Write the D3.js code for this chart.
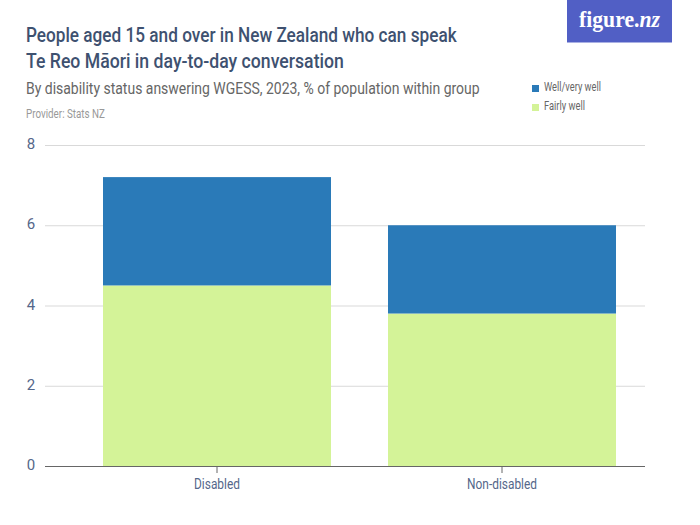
<!doctype html>
<html>
<head>
<meta charset="utf-8">
<style>
html, body { margin: 0; padding: 0; background: #fff; }
svg { display: block; }
text { font-family: Roboto, sans-serif; }
</style>
</head>
<body>
<div id="chart"></div>
<script src="https://cdn.jsdelivr.net/npm/d3@7"></script>
<script>
var categories = ["Disabled", "Non-disabled"];
var seriesNames = ["Fairly well", "Well/very well"];
var fairlyWell = [4.5, 3.8];
var wellVeryWell = [2.7, 2.2];
var yTicks = [0, 2, 4, 6, 8];
var titleLines = ["People aged 15 and over in New Zealand who can speak", "Te Reo Māori in day-to-day conversation"];
var subtitle = "By disability status answering WGESS, 2023, % of population within group";
var provider = "Provider: Stats NZ";

var width = 700, height = 525;
var navy = "#3e5170", tickText = "#55678a";
var colors = {"Fairly well": "#d4f398", "Well/very well": "#2a7ab8"};

var svg = d3.select("#chart").append("svg")
    .attr("width", width)
    .attr("height", height);

var x = d3.scaleBand().domain(categories).range([74.5, 644.5]).paddingInner(0.2).paddingOuter(0.1);
var y = d3.scaleLinear().domain([0, 8]).range([466, 145]);

// squeeze a line of text sideways to the width it has in the reference
function fitted(sel, px, py, len) {
    var k = len / sel.node().getComputedTextLength();
    return sel.attr("transform", "translate(" + px + "," + py + ") scale(" + k + ",1)");
}

// gridlines
svg.selectAll(".grid")
    .data(yTicks.slice(1))
    .enter()
    .append("line")
        .attr("x1", 45)
        .attr("x2", 645)
        .attr("y1", function(d) { return y(d) + 0.5; })
        .attr("y2", function(d) { return y(d) + 0.5; })
        .attr("stroke", "#d9d9d9");

// stacked bars
var rows = categories.map(function(c, i) {
    return {category: c, "Fairly well": fairlyWell[i], "Well/very well": wellVeryWell[i]};
});
var stack = d3.stack().keys(seriesNames)(rows);
svg.selectAll(".series")
    .data(stack)
    .enter()
    .append("g")
        .attr("fill", function(s) { return colors[s.key]; })
    .selectAll("rect")
    .data(function(s) { return s; })
    .enter()
    .append("rect")
        .attr("x", function(d) { return x(d.data.category); })
        .attr("width", x.bandwidth())
        .attr("y", function(d) { return y(d[1]); })
        .attr("height", function(d) { return y(d[0]) - y(d[1]); });

// axes
var baseline = svg.append("g").attr("transform", "translate(0,466)");
baseline.append("line").attr("x1", 45).attr("x2", 645).attr("y1", 0.5).attr("y2", 0.5).attr("stroke", "#666");
var xTick = baseline.selectAll(".xtick")
    .data(categories)
    .enter()
    .append("g")
        .attr("transform", function(d) { return "translate(" + (x(d) + x.bandwidth() / 2) + ",0)"; });
xTick.append("line").attr("y2", 7).attr("stroke", "#666");
xTick.append("text")
    .attr("text-anchor", "middle")
    .attr("font-size", 14)
    .attr("fill", tickText)
    .text(function(d) { return d; })
    .each(function(d) { fitted(d3.select(this), 0, 23, d == "Disabled" ? 46 : 70); });

svg.selectAll(".ytick")
    .data(yTicks)
    .enter()
    .append("text")
        .attr("x", 31)
        .attr("y", function(d) { return y(d) + 4; })
        .attr("text-anchor", "middle")
        .attr("font-size", 15)
        .attr("fill", tickText)
        .text(function(d) { return d; });

// headings
var titleWidths = [431, 318];
titleLines.forEach(function(line, i) {
    fitted(svg.append("text")
        .attr("font-size", 20)
        .attr("font-weight", 500)
        .attr("fill", navy)
        .text(line), 26, 42 + i * 26, titleWidths[i]);
});
fitted(svg.append("text")
    .attr("font-size", 17)
    .attr("fill", "#666")
    .text(subtitle), 26, 94, 454);
fitted(svg.append("text")
    .attr("font-size", 12)
    .attr("fill", "#999")
    .text(provider), 26, 118, 79);

// legend
var legendNames = ["Well/very well", "Fairly well"];
var legendWidths = [57, 41];
var legend = svg.selectAll(".legend")
    .data(legendNames)
    .enter()
    .append("g")
        .attr("transform", function(d, i) { return "translate(532," + (85 + i * 19) + ")"; });
legend.append("rect")
    .attr("width", 7)
    .attr("height", 7)
    .attr("fill", function(d) { return colors[d]; });
legend.append("text")
    .attr("font-size", 12)
    .attr("fill", "#666")
    .text(function(d) { return d; })
    .each(function(d, i) { fitted(d3.select(this), 12, 6, legendWidths[i]); });

// logo
svg.append("rect").attr("x", 567).attr("y", 0).attr("width", 105).attr("height", 42).attr("fill", "#515fc5");
svg.append("rect").attr("x", 567).attr("y", 42).attr("width", 105).attr("height", 1).attr("fill", "#a9b0e3");
var logo = svg.append("text")
    .attr("font-size", 24)
    .attr("font-weight", 700)
    .attr("fill", "#fff")
    .style("font-family", "'Liberation Serif', 'DejaVu Serif', serif");
logo.append("tspan").text("figure.");
logo.append("tspan").attr("font-style", "italic").text("nz");
fitted(logo, 579, 27, 81);
</script>
</body>
</html>
